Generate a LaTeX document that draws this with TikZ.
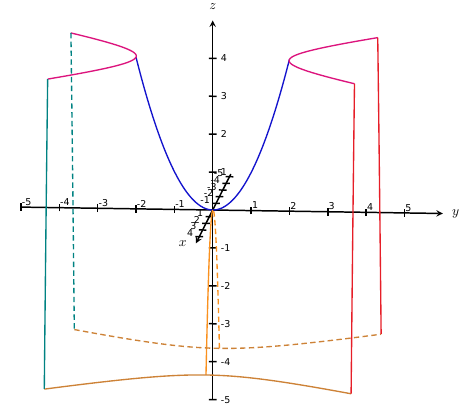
\documentclass[tikz,border=0pt]{standalone}
\usepackage{fontspec}
\usepackage{tikz}
\usepackage{tikz-3dplot}
\usetikzlibrary{arrows,calc}
\newfontfamily\numfont{DejaVu Sans}
\definecolor{traceblue}{RGB}{20,20,205}
\definecolor{traceorange}{RGB}{250,145,30}
\definecolor{levelpink}{RGB}{220,20,125}
\definecolor{levelbrown}{RGB}{205,130,55}
\definecolor{edgeteal}{RGB}{0,130,130}
\definecolor{edgered}{RGB}{230,30,40}
\tdplotsetmaincoords{80}{95}
\tikzset{%
	axis/.style  = {line width=1.1pt,-stealth},
	tickmark/.style = {line width=1.1pt},
	curve/.style = {line width=1pt,smooth,samples=60},
	hidden/.style = {dash pattern=on 4pt off 2.5pt},
	num/.style   = {font=\numfont\scriptsize,inner sep=0.5pt},
}

\begin{document}
\begin{tikzpicture}[tdplot_main_coords]
		\useasboundingbox (-5.525cm,-5.247cm) rectangle (6.787cm,5.455cm);
		\draw[axis] (0,-5,0) -- (0,6,0) node[right=3pt] (ylab) {$y$};
		\draw[axis] (0,0,-5) -- (0,0,5) node[above=4pt] (zlab) {$z$};
		\draw[axis] (-5.4,0,0) -- (5,0,0) node[left=3pt] (xlab) {$x$};
		\foreach \t in {-5,-4,-3,-2,-1,1,2,3,4,5}{
			\draw[tickmark] (0,\t,-0.1) -- (0,\t,0.1);
			\node[num,anchor=south west] (yt\t) at (0,\t,0.02) {\t};}
		\foreach \t in {-5,-4,-3,-2,-1,1,2,3,4}{
			\draw[tickmark] (0,-0.1,\t) -- (0,0.1,\t);
			\node[num,anchor=west,xshift=2.5pt] (zt\t) at (0,0.1,\t) {\t};
			\draw[tickmark] (\t,-0.1,0) -- (\t,0.1,0);
			\node[num,anchor=east,inner sep=1.5pt,yshift=2.5pt] (xt\t) at (\t,-0.1,0) {\t};}
		
		\draw[curve,traceblue] plot[domain=-2:2] (0,\x,{\x*\x});
		\draw[curve,traceorange] plot[domain=0:2] (\x,0,{-\x*\x});
		\draw[curve,traceorange,hidden] plot[domain=-2:0] (\x,0,{-\x*\x});
		\draw[curve,levelpink] plot[domain=-3.4641:3.4641] (\x,{-sqrt(4+\x*\x)},4);
		\draw[curve,levelpink] plot[domain=-3.4641:3.4641] (\x,{sqrt(4+\x*\x)},4);
		\draw[curve,levelbrown] plot[domain=-4:4] ({sqrt(4+\x*\x)},\x,-4);
		\draw[curve,levelbrown,hidden] plot[domain=-4:4] ({-sqrt(4+\x*\x)},\x,-4);
		\draw[curve,edgeteal] plot[domain=3.4641:4.4721] (\x,-4,{16-\x*\x});
		\draw[curve,edgeteal,hidden] plot[domain=-3.4641:-4.4721] (\x,-4,{16-\x*\x});
		\draw[curve,edgered] plot[domain=3.4641:4.4721] (\x,4,{16-\x*\x});
		\draw[curve,edgered] plot[domain=-3.4641:-4.4721] (\x,4,{16-\x*\x});
		
\end{tikzpicture}
\end{document}
